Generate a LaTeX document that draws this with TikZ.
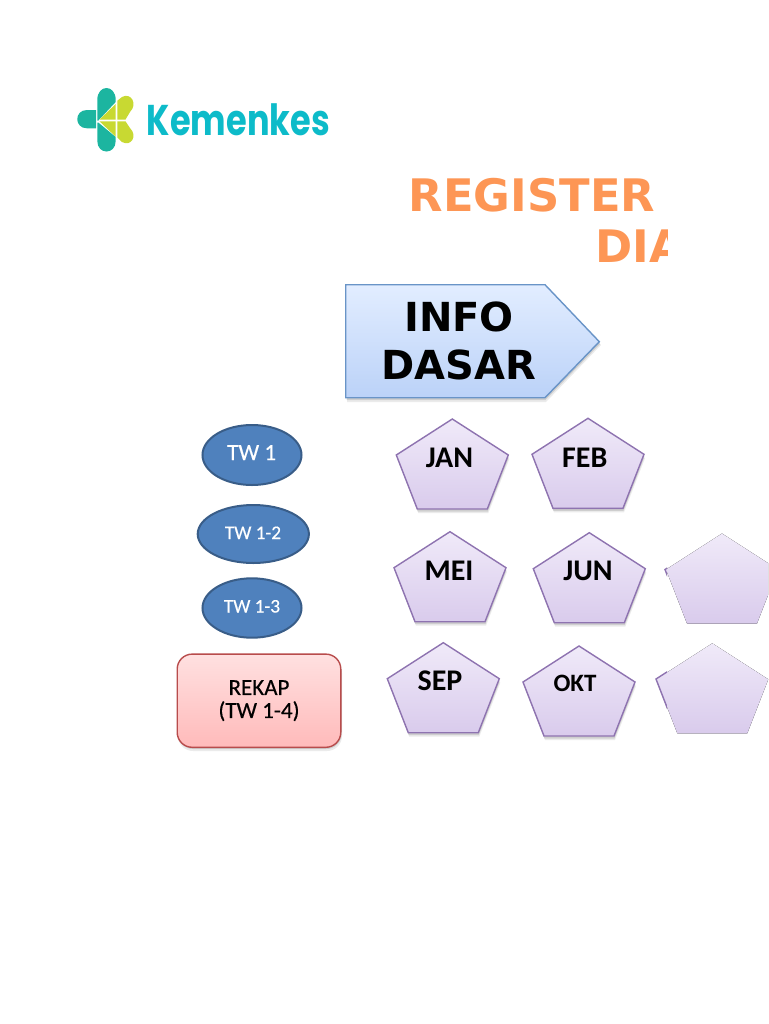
\documentclass[tikz,border=0pt]{standalone}
\usepackage{fontspec}
\setmainfont{Carlito}
\newfontfamily\judulfont{DejaVu Sans}
\newfontfamily\logofont[FakeStretch=0.78]{Poppins}
\newfontfamily\tebalfont[FakeBold=0.4]{Carlito}
\usetikzlibrary{shapes.geometric}
\definecolor{ungu}{HTML}{8E73B0}
\definecolor{ungua}{HTML}{F0EAF9}
\definecolor{ungub}{HTML}{D9CBEC}
\definecolor{tealk}{HTML}{1CB5A0}
\definecolor{limek}{HTML}{C8D932}
\definecolor{cyank}{HTML}{0DBBC9}
\definecolor{birutw}{HTML}{4F81BD}
\definecolor{birua}{HTML}{E2EDFF}
\definecolor{birub}{HTML}{BBD2F8}
\definecolor{jingga}{HTML}{FD9655}
\tikzset{
	segi/.style={draw=ungu,line width=0.7pt,top color=ungua,bottom color=ungub},
	segipolos/.style={top color=ungua,bottom color=ungub},
	bayang/.style={fill=black,opacity=0.12},
	bayangb/.style={fill=black,opacity=0.08},
	blnlabel/.style={anchor=base,inner sep=0pt,font=\fontsize{15}{15}\selectfont\bfseries},
	twbentuk/.style={ellipse,draw=birutw!72!black,line width=1pt,fill=birutw,inner sep=0pt},
	twteks/.style={anchor=base,inner sep=0pt,text=white},
	judul/.style={anchor=base west,inner sep=0pt,text=jingga,font=\fontsize{22.4}{22.4}\judulfont\bfseries}
}
\newcommand{\segilima}[2]{(#1,#2) -- ++(56,36) -- ++(-21,54) -- ++(-70,0) -- ++(-21,-54) -- cycle}
\newcommand{\bulan}[2]
{
	\fill[bayangb] \segilima{#1+1}{#2+4};
	\fill[bayang] \segilima{#1+0.5}{#2+2.5};
	\draw[segi] \segilima{#1}{#2};
}
\begin{document}
\begin{tikzpicture}[x=0.5pt,y=-0.5pt]
	\useasboundingbox (0,0) rectangle (768,1024);
	\fill[tealk] (97.3,100) .. controls (97.3,84) and (115.7,84) .. (115.7,100) -- (115.7,102) -- (98.3,120.5) -- (97.3,120.5) -- cycle;
	\fill[tealk] (97.3,122.5) -- (98.3,122.5) -- (115.7,137) -- (115.7,141) .. controls (115.7,155) and (97.3,155) .. (97.3,141) -- cycle;
	\fill[tealk] (96,110) -- (87,110) .. controls (74,110) and (74,128.3) .. (87,128.3) -- (96,128.3) -- cycle;
	\fill[limek] (99.5,119.5) -- (115.7,104) -- (115.7,119.5) -- cycle;
	\fill[limek] (117.3,119.5) -- (117.3,100.7) -- (122,97) .. controls (131,92) and (138,104) .. (130,112) -- (125.5,119.5) -- cycle;
	\fill[limek] (99.5,121.3) -- (115.7,121.3) -- (115.7,136.7) -- cycle;
	\fill[limek] (117.3,121.3) -- (125.5,121.3) -- (130,128) .. controls (138,136) and (131,147) .. (122,142) -- (117.3,137.5) -- cycle;
	\node[anchor=base west,inner sep=0pt,text=cyank,font=\fontsize{21.5}{21.5}\logofont\bfseries] (logo) at (146.5,135) {Kemenkes};
	\begin{scope}
		\clip (0,150) rectangle (667.5,280);
		\node[judul] (judula) at (408.5,211) {REGISTER};
		\node[judul] (judulb) at (595,262) {DIA};
	\end{scope}
	\fill[bayangb] (347,289) -- (546,289) -- (601,345) -- (546,402) -- (347,402) -- cycle;
	\fill[bayang] (346.5,287) -- (545.5,287) -- (600,344) -- (545.5,400) -- (346.5,400) -- cycle;
	\draw[draw=birutw!85,line width=0.7pt,top color=birua,bottom color=birub] (345.7,284.7) -- (545,284.7) -- (599.3,341.7) -- (545,397.7) -- (345.7,397.7) -- cycle;
	\node[align=center,inner sep=0pt,font=\fontsize{20}{24}\judulfont\bfseries] (info) at (459,341) {INFO\\DASAR};
	\node[twbentuk,minimum width=49.5pt,minimum height=30pt] (tw1) at (252,455) {};
	\node[twbentuk,minimum width=55.6pt,minimum height=29pt] (tw12) at (253.3,534) {};
	\node[twbentuk,minimum width=49.5pt,minimum height=29.7pt] (tw13) at (252,608) {};
	\node[twteks,font=\fontsize{11.6}{11.6}\tebalfont] (ltw1) at (251.7,460) {TW 1};
	\node[twteks,font=\fontsize{9.6}{9.6}\tebalfont] (ltw12) at (253,539) {TW 1-2};
	\node[twteks,font=\fontsize{9.6}{9.6}\tebalfont] (ltw13) at (252,612.5) {TW 1-3};
	\fill[bayangb,rounded corners=7.5pt] (178,658) rectangle (342,751);
	\fill[bayang,rounded corners=7.5pt] (178,656.5) rectangle (341.5,749);
	\node[draw=red!60!black!70,line width=0.7pt,rounded corners=7.5pt,top color=red!12,bottom color=red!27,minimum width=81.8pt,minimum height=46.6pt,inner sep=0pt,align=center,font=\fontsize{11.5}{11.5}\tebalfont] (rekap) at (259,700.7) {REKAP\\(TW 1-4)};
	\bulan{452.3}{419}
	\bulan{450}{531.7}
	\bulan{443.3}{642.7}
	\bulan{588}{418.3}
	\bulan{589.3}{532.7}
	\bulan{579}{646}
	\node[blnlabel] (jan) at (449.5,467) {JAN};
	\node[blnlabel] (mei) at (449,580) {MEI};
	\node[blnlabel] (sep) at (440,690.7) {SEP};
	\node[blnlabel] (feb) at (584.7,467) {FEB};
	\node[blnlabel] (jun) at (588,580.7) {JUN};
	\node[blnlabel,font=\fontsize{12.5}{12.5}\selectfont\bfseries] (okt) at (575,691) {OKT};
	\begin{scope}
		\clip (640,520) rectangle (667,740);
		\bulan{721}{533.5}
		\bulan{712}{643}
	\end{scope}
	\begin{scope}
		\clip (667,520) rectangle (768,740);
		\fill[segipolos] \segilima{722}{533.5};
		\fill[segipolos] \segilima{712.3}{643.3};
	\end{scope}
\end{tikzpicture}
\end{document}
